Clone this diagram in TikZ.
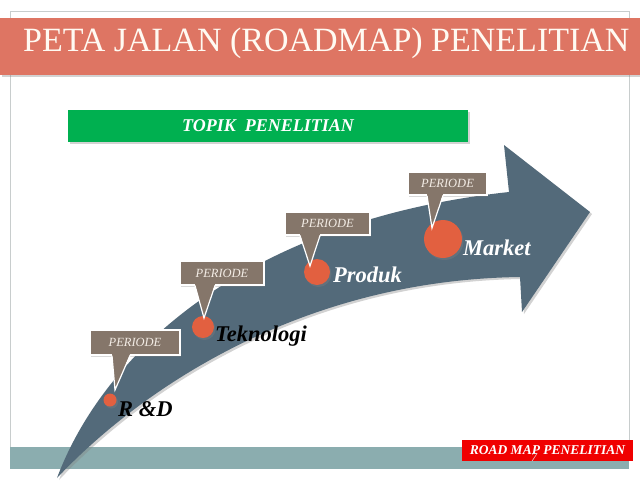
\documentclass[tikz,border=0pt]{standalone}
\usepackage{fontspec}
\setmainfont{Liberation Serif}
\usetikzlibrary{shadows}
\definecolor{titlered}{RGB}{222,117,99}
\definecolor{titletext}{RGB}{255,250,242}
\definecolor{topgreen}{RGB}{0,176,80}
\definecolor{arrowcol}{RGB}{83,106,122}
\definecolor{dotcol}{RGB}{226,96,64}
\definecolor{callcol}{RGB}{133,118,106}
\definecolor{calltext}{RGB}{242,235,228}
\definecolor{tealbar}{RGB}{139,173,175}
\definecolor{framecol}{RGB}{200,205,205}
\definecolor{boxred}{RGB}{240,0,0}
\tikzset{
  softshadow/.style={drop shadow={opacity=0.35,shadow xshift=1.5pt,shadow yshift=-2pt}},
  titlebar/.style={fill=titlered,draw=none,inner sep=0,softshadow},
  greenbox/.style={fill=topgreen,draw=none,inner sep=0,softshadow,text=white,
    font=\fontsize{18}{21}\selectfont\bfseries\itshape},
  dot/.style={circle,fill=dotcol,draw=none,inner sep=0,softshadow},
  callbox/.style={fill=callcol,draw=white,line width=1.2pt,inner sep=0,
    text=calltext,font=\fontsize{12.5}{14}\selectfont\itshape,
    drop shadow={opacity=0.3,shadow xshift=1pt,shadow yshift=-1.5pt}},
  callfill/.style={fill=callcol},
  callline/.style={draw=white,line width=1.2pt,line join=miter},
  stagelabel/.style={anchor=base west,inner sep=0,font=\fontsize{22.5}{26}\selectfont\bfseries\itshape},
}
\begin{document}
\begin{tikzpicture}[x=1pt,y=-1pt]
\useasboundingbox (0,0) rectangle (640,480);
\fill[white] (0,0) rectangle (640,480);
% frame
\draw[framecol,line width=0.8pt] (10,447) -- (10,11) -- (629,11) -- (629,447);
% title bar
\node[titlebar,minimum width=640pt,minimum height=57pt] (bar) at (320,46.5) {};
\node[anchor=base west,inner sep=0,text=titletext,font=\fontsize{34}{40}\selectfont] (title) at (23,51) {PETA JALAN (ROADMAP) PENELITIAN};
% topic box
\node[greenbox,minimum width=400pt,minimum height=32pt] (topic) at (268,126) {TOPIK\ \ PENELITIAN};
% bottom bar
\node[fill=tealbar,inner sep=0,minimum width=619pt,minimum height=22pt] (foot) at (319.5,458) {};
\node[fill=boxred,inner sep=0,minimum width=171pt,minimum height=21pt,text=white,
  font=\fontsize{13.5}{15}\selectfont\bfseries\itshape] (road) at (547.5,450.5) {ROAD MAP PENELITIAN};
% arrow
\fill[arrowcol,drop shadow={opacity=0.35,shadow xshift=2pt,shadow yshift=-2pt}]
  (57,478) .. controls (105,350) and (250,220) .. (509,192)
  -- (504,145) -- (590,212) -- (522,312) -- (520,277)
  .. controls (300,280) and (140,390) .. (57,478) -- cycle;
% dots
\node[dot,minimum size=13pt] (rd) at (110,400) {};
\node[dot,minimum size=22pt] (tek) at (203,327) {};
\node[dot,minimum size=26pt] (pro) at (317,272) {};
\node[dot,minimum size=38pt] (mar) at (443,239) {};
% pointer tips
\coordinate (t1) at (115,390);
\coordinate (t2) at (204,318);
\coordinate (t3) at (310,266);
\coordinate (t4) at (432,228);
% callouts
\node[callbox,minimum width=90pt,minimum height=25pt] (c1) at (135,342.5) {PERIODE};
\fill[callfill] ([xshift=-23pt,yshift=1.5pt]c1.south) -- (t1) -- ([xshift=-5pt,yshift=1.5pt]c1.south) -- cycle;
\draw[callline] ([xshift=-23pt]c1.south) -- (t1) -- ([xshift=-5pt]c1.south);
\node[callbox,minimum width=84pt,minimum height=24pt] (c2) at (222,273) {PERIODE};
\fill[callfill] ([xshift=-27pt,yshift=1.5pt]c2.south) -- (t2) -- ([xshift=-7pt,yshift=1.5pt]c2.south) -- cycle;
\draw[callline] ([xshift=-27pt]c2.south) -- (t2) -- ([xshift=-7pt]c2.south);
\node[callbox,minimum width=85pt,minimum height=23pt] (c3) at (327.5,223.5) {PERIODE};
\fill[callfill] ([xshift=-27.5pt,yshift=1.5pt]c3.south) -- (t3) -- ([xshift=-7.5pt,yshift=1.5pt]c3.south) -- cycle;
\draw[callline] ([xshift=-27.5pt]c3.south) -- (t3) -- ([xshift=-7.5pt]c3.south);
\node[callbox,minimum width=79pt,minimum height=23pt] (c4) at (447.5,183.5) {PERIODE};
\fill[callfill] ([xshift=-20.5pt,yshift=1.5pt]c4.south) -- (t4) -- ([xshift=-4.5pt,yshift=1.5pt]c4.south) -- cycle;
\draw[callline] ([xshift=-20.5pt]c4.south) -- (t4) -- ([xshift=-4.5pt]c4.south);
% stage labels
\node[stagelabel,text=black] (lrd) at (118,416) {R \&D};
\node[stagelabel,text=black] (ltek) at (215,341) {Teknologi};
\node[stagelabel,text=white] (lpro) at (333,282) {Produk};
\node[stagelabel,text=white] (lmar) at (463,255) {Market};
% page number
\node[inner sep=0,text=white!85!gray,font=\fontsize{12}{13}\selectfont\itshape] (pg) at (534,458) {7};
\end{tikzpicture}
\end{document}
